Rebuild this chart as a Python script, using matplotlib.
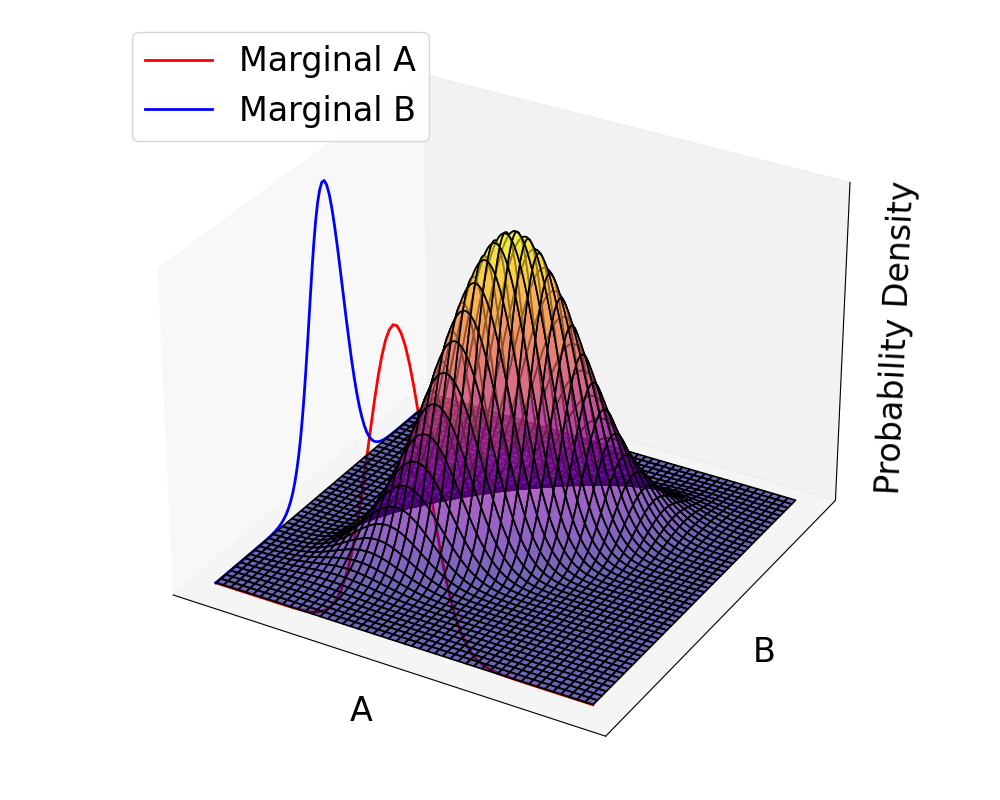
import numpy as np
import matplotlib
matplotlib.use('Agg')
import matplotlib.pyplot as plt

# surface height read along its long and short diagonal, relative to the peak
long_dist = [0, 0.25, 0.5, 0.75, 1, 1.25, 1.5, 1.75, 2, 2.25, 2.5, 2.75, 3, 3.25, 3.5, 3.75, 4, 4.25, 4.5]
long_height = [1, 0.971, 0.889, 0.767, 0.624, 0.479, 0.346, 0.236, 0.152, 0.092, 0.0525, 0.028,
               0.0143, 0.0069, 0.0031, 0.0013, 0.0005, 0.0002, 0.0001]
short_dist = [0, 0.125, 0.25, 0.375, 0.5, 0.625, 0.75, 0.875, 1, 1.125, 1.25, 1.5, 1.75, 2, 2.5, 3, 4.5]
short_height = [1, 0.957, 0.838, 0.671, 0.492, 0.330, 0.203, 0.114, 0.059, 0.0276, 0.0119, 0.0017,
                0.00017, 0.00001, 0.000001, 0.000001, 0.000001]

# marginal curves on the walls, 100 points
half_curve = [0.0001, 0.0002, 0.0003, 0.0005, 0.0009, 0.0015, 0.0024, 0.0039, 0.006, 0.0092,
              0.0139, 0.0205, 0.0295, 0.042, 0.0586, 0.080, 0.108, 0.143, 0.185, 0.235,
              0.294, 0.360, 0.434, 0.512, 0.594, 0.676, 0.756, 0.829, 0.893, 0.944,
              0.979, 0.998]
marginal_a = [0] * 18 + half_curve + half_curve[::-1] + [0] * 18
marginal_b = list(marginal_a)

grid_a = np.linspace(-3, 3, 197)
grid_b = np.linspace(-3, 3, 197)
curve_a = np.linspace(-3, 3, len(marginal_a))
curve_b = np.linspace(-3, 3, len(marginal_b))


def lookup(d, dist, height):
    # log of the height is close to straight against d squared, so the mesh stays smooth
    return np.exp(np.interp(d ** 2, np.array(dist) ** 2, np.log(height)))


X, Y = np.meshgrid(grid_a, grid_b)
U = (X + Y) / np.sqrt(2)
V = (X - Y) / np.sqrt(2)
Z = lookup(U, long_dist, long_height) * lookup(V, short_dist, short_height)

fig = plt.figure(figsize=(10, 8), dpi=100)
ax = fig.add_subplot(projection='3d')
ax.set_position([0.015, 0.019, 0.97, 0.9625])

# fine grid, every 4th line drawn, so the mesh lines stay round over the peak
ax.plot_surface(X, Y, Z, cmap='plasma', rstride=4, cstride=4, edgecolor='k', linewidth=1.2, alpha=0.6)
ax.plot(curve_a, np.full_like(curve_a, grid_b[0]), marginal_a, color='r', lw=2, label='Marginal A')
ax.plot(np.full_like(curve_b, grid_a[0]), curve_b, marginal_b, color='b', lw=2, label='Marginal B')

ax.set_xlim(-3.43, 3.43)
ax.set_ylim(-3.43, 3.43)
ax.set_zlim(-0.02, 1.02)
ax.set_xticks([])
ax.set_yticks([])
ax.set_zticks([])
ax.set_xlabel('A', fontsize=24, labelpad=3.5)
ax.set_ylabel('B', fontsize=24, labelpad=4.5)
ax.set_zlabel('Probability Density', fontsize=24, labelpad=3)

ax.legend(loc='upper left', bbox_to_anchor=(0.132, 0.96), bbox_transform=fig.transFigure,
          fontsize=24, borderaxespad=0)

fig.savefig('out.png', dpi=100)
